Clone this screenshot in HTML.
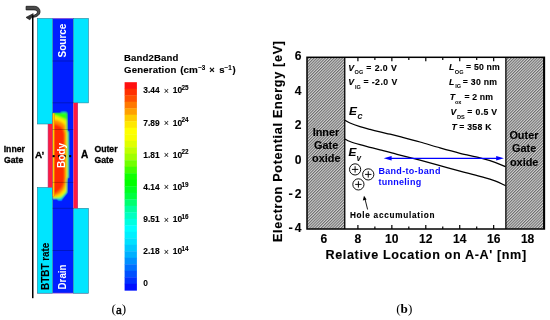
<!DOCTYPE html>
<html><head><meta charset="utf-8">
<style>
html,body{margin:0;padding:0;background:#fff;}
body{width:550px;height:320px;overflow:hidden;}
svg{display:block;}
text{font-family:"Liberation Sans",Arial,sans-serif;font-weight:bold;fill:#000;}
.k{stroke:#000;stroke-width:0.12px;}
.k2{stroke:#000;stroke-width:0.3px;}
.k3{stroke:#000;stroke-width:0.05px;}
.serif{font-family:"Liberation Serif","Times New Roman",serif;font-weight:normal;}
.w{fill:#fff;}
.bl{fill:#0a0aff;}
.it{font-style:italic;}
.n{font-weight:normal;}
</style></head><body>
<svg width="550" height="320" viewBox="0 0 550 320">
<defs>
<pattern id="hatch" patternUnits="userSpaceOnUse" width="2.02" height="2.02" patternTransform="rotate(45)">
<rect width="2.02" height="2.02" fill="#d2d2d2"/>
<rect width="1.0" height="2.02" fill="#6c6c6c"/>
</pattern>
<linearGradient id="bodyR" gradientUnits="userSpaceOnUse" x1="63.5" y1="0" x2="69.4" y2="0">
<stop offset="0" stop-color="#ff3000" stop-opacity="0"/>
<stop offset="0.25" stop-color="#ff8800"/>
<stop offset="0.42" stop-color="#ffee00"/>
<stop offset="0.6" stop-color="#70ff00"/>
<stop offset="0.75" stop-color="#00ff70"/>
<stop offset="0.88" stop-color="#00c8ff"/>
<stop offset="1" stop-color="#0030ff"/>
</linearGradient>
<linearGradient id="bodyT" gradientUnits="userSpaceOnUse" x1="60" y1="112.6" x2="56" y2="127">
<stop offset="0" stop-color="#10ff30"/>
<stop offset="0.22" stop-color="#60ff00"/>
<stop offset="0.42" stop-color="#eeff00"/>
<stop offset="0.62" stop-color="#ffb000"/>
<stop offset="0.82" stop-color="#ff5a00"/>
<stop offset="1" stop-color="#ff2800" stop-opacity="0"/>
</linearGradient>
<radialGradient id="bodyB" gradientUnits="userSpaceOnUse" cx="52" cy="177" r="18" gradientTransform="translate(52 177) scale(1 1.28) translate(-52 -177)">
<stop offset="0" stop-color="#ff2800"/>
<stop offset="0.5" stop-color="#ff3000"/>
<stop offset="0.66" stop-color="#ff8000"/>
<stop offset="0.78" stop-color="#ffee00"/>
<stop offset="0.87" stop-color="#50ff00"/>
<stop offset="0.94" stop-color="#00ffc0"/>
<stop offset="1" stop-color="#0030ff"/>
</radialGradient>
<linearGradient id="bodyL" gradientUnits="userSpaceOnUse" x1="52.5" y1="0" x2="55.2" y2="0">
<stop offset="0" stop-color="#c06020"/>
<stop offset="0.3" stop-color="#ffc000"/>
<stop offset="0.55" stop-color="#ffa000"/>
<stop offset="1" stop-color="#ff3000" stop-opacity="0"/>
</linearGradient>
<clipPath id="bodyClip"><path d="M52.5 112.6 L60.3 112.6 L60.8 110.8 L66.2 110.8 L67.9 112.6 L68.2 130.7 L69.7 131.2 L69.7 178 L68 178.6 L67.9 193 L62.5 199.7 L62.3 201.2 L57.8 201.2 L57.2 199.7 L52.5 199.7 Z"/></clipPath>
<filter id="bblur" x="-20%" y="-5%" width="140%" height="110%"><feGaussianBlur stdDeviation="0.8"/></filter>
<linearGradient id="bodyL2" gradientUnits="userSpaceOnUse" x1="52.5" y1="0" x2="55.3" y2="0">
<stop offset="0" stop-color="#e09020"/>
<stop offset="0.22" stop-color="#ffd800"/>
<stop offset="0.5" stop-color="#ffc800"/>
<stop offset="0.75" stop-color="#ff8000" stop-opacity="0.6"/>
<stop offset="1" stop-color="#ff4000" stop-opacity="0"/>
</linearGradient>
</defs>


<!-- rotation arrow -->
<path d="M26.1 6.3 L34.5 6.3 C38.5 6.5 40.3 9.5 40 12.3 C39.7 15 37 16.8 33.3 17.3 L32.6 15.4 C35.5 15 37.3 13.8 37.4 12.3 C37.5 10.9 36.2 9.9 34.2 9.9 L26.1 9.9 Z" fill="#4a4a4a" stroke="#111" stroke-width="0.75"/>
<path d="M26 17.4 L33.2 13.6 L32.6 16.3 L29.8 19.8 Z" fill="#333" stroke="#111" stroke-width="0.6"/>
<rect x="32.0" y="15.5" width="1.5" height="282.7" fill="#000"/>

<!-- blue channel strip -->
<rect x="52.5" y="18.4" width="20.9" height="274.8" fill="#001eff"/>
<line x1="37.3" y1="293.2" x2="88.5" y2="293.2" stroke="#c060c0" stroke-width="0.6"/>
<line x1="52.5" y1="18.6" x2="73.4" y2="18.6" stroke="#a040c0" stroke-width="0.6"/>
<!-- cyan blocks -->
<g fill="#00e5ff" stroke="#2a7890" stroke-width="0.55">
<rect x="37.3" y="18.4" width="15.2" height="105.6"/>
<rect x="73.4" y="18.4" width="15.1" height="84.5"/>
<rect x="37.3" y="187.4" width="15.2" height="105.8"/>
<rect x="73.4" y="208.3" width="15.1" height="84.9"/>
</g>
<!-- crimson oxide -->
<rect x="48.1" y="124" width="4.4" height="63.4" fill="#ff1a40"/>
<rect x="73.4" y="102.8" width="4.3" height="105.5" fill="#ff1a40"/>
<rect x="47.8" y="124" width="0.5" height="63.4" fill="#a02070"/>
<rect x="77.5" y="102.8" width="0.5" height="105.5" fill="#a02070"/>
<!-- body -->
<g clip-path="url(#bodyClip)">
<rect x="52" y="110" width="18" height="92" fill="#001eff"/>
<g filter="url(#bblur)">
<path d="M52.5 112.8 L61 112.8 L62 111.4 L65.5 111.4 L67.6 112.8 L67.9 131 L69.3 131.5 L69.3 178 L67.7 178.6 L67.6 193 L62.2 199.6 L62 200.8 L58 200.8 L57.5 199.4 L52 199.4 Z" fill="#00d8ff"/>
<path d="M52 112.6 L67.5 112.6 L67.6 131 L68.4 132 L68.4 178 L67.3 179 L67.2 192.5 L61.5 198.6 L52 198.9 Z" fill="#30ff10"/>
<path d="M52 114.8 L56 115.8 L62 118.2 L66.3 120 L66.4 131 L67.1 133 L67.1 178 L66.6 179 L66.5 191 L61.5 196.6 L56 197.8 L52 198 Z" fill="#ffee00"/>
<path d="M52 119.3 L57.5 120.3 L62.5 122.8 L65.2 125.5 L65.3 131 L65.9 134 L65.9 177.5 L65.6 184 L64 189.5 L60 194 L55.5 196 L52 196.3 Z" fill="#ff8a00"/>
<path d="M52 123.2 L57.5 124.4 L61.8 127 L63.8 130.5 L64.7 134 L64.7 176.5 L64.3 183 L62 188 L58 192 L54.5 194 L52 194.5 Z" fill="#ff2c00"/>
</g>
</g>
<rect x="52.5" y="113.2" width="2.8" height="83" fill="url(#bodyL2)"/>
<!-- dark thin lines -->
<g stroke="#000" stroke-width="0.6" opacity="0.4">
<line x1="52.5" y1="61" x2="73.4" y2="61"/>
<line x1="52.5" y1="102.8" x2="73.4" y2="102.8"/>
<line x1="52.5" y1="129.5" x2="73.4" y2="129.5"/>
<line x1="52.5" y1="182.4" x2="73.4" y2="182.4"/>
<line x1="52.5" y1="208.3" x2="73.4" y2="208.3"/>
<line x1="52.5" y1="250.5" x2="73.4" y2="250.5"/>
</g>
<!-- dotted line -->
<g fill="#000">
<rect x="52.6" y="155.1" width="2.1" height="2.1"/><rect x="58.1" y="155.1" width="2.1" height="2.1"/><rect x="63.6" y="155.1" width="2.1" height="2.1"/><rect x="69.1" y="155.1" width="2.1" height="2.1"/>
</g>
<!-- texts in device -->
<text class="w" transform="translate(66.3 57.5) rotate(-90)" font-size="10.8" textLength="33.9" lengthAdjust="spacingAndGlyphs">Source</text>
<text class="w" transform="translate(64.7 168.1) rotate(-90)" font-size="10.1" textLength="25.2" lengthAdjust="spacingAndGlyphs">Body</text>
<text class="w" transform="translate(65.7 289.4) rotate(-90)" font-size="10.5" textLength="24.8" lengthAdjust="spacingAndGlyphs">Drain</text>
<text class="k" transform="translate(49.0 289.9) rotate(-90)" font-size="10.4" textLength="47.2" lengthAdjust="spacingAndGlyphs">BTBT rate</text>
<!-- labels -->
<text class="k2" x="3.7" y="152.1" font-size="8.7">Inner</text>
<text class="k2" x="4" y="162.7" font-size="8.7">Gate</text>
<text class="k2" x="34.9" y="157.8" font-size="9.9">A’</text>
<text class="k2" x="81.1" y="157.9" font-size="10.1">A</text>
<text class="k2" x="94.4" y="152.1" font-size="8.7">Outer</text>
<text class="k2" x="94.4" y="162.6" font-size="8.7">Gate</text>

<rect x="124.6" y="82.20" width="12.3" height="6.85" fill="#ff1010"/>
<rect x="124.6" y="88.70" width="12.3" height="6.85" fill="#ff3000"/>
<rect x="124.6" y="95.21" width="12.3" height="6.85" fill="#ff5000"/>
<rect x="124.6" y="101.71" width="12.3" height="6.85" fill="#ff7800"/>
<rect x="124.6" y="108.21" width="12.3" height="6.85" fill="#ffa000"/>
<rect x="124.6" y="114.72" width="12.3" height="6.85" fill="#ffcc00"/>
<rect x="124.6" y="121.22" width="12.3" height="6.85" fill="#ffe800"/>
<rect x="124.6" y="127.72" width="12.3" height="6.85" fill="#ffff00"/>
<rect x="124.6" y="134.23" width="12.3" height="6.85" fill="#f8ff00"/>
<rect x="124.6" y="140.73" width="12.3" height="6.85" fill="#e0ff00"/>
<rect x="124.6" y="147.23" width="12.3" height="6.85" fill="#c0ff00"/>
<rect x="124.6" y="153.73" width="12.3" height="6.85" fill="#a0ff00"/>
<rect x="124.6" y="160.24" width="12.3" height="6.85" fill="#70ff00"/>
<rect x="124.6" y="166.74" width="12.3" height="6.85" fill="#40ff00"/>
<rect x="124.6" y="173.24" width="12.3" height="6.85" fill="#10ff00"/>
<rect x="124.6" y="179.75" width="12.3" height="6.85" fill="#00ff00"/>
<rect x="124.6" y="186.25" width="12.3" height="6.85" fill="#00ff20"/>
<rect x="124.6" y="192.75" width="12.3" height="6.85" fill="#00ff40"/>
<rect x="124.6" y="199.26" width="12.3" height="6.85" fill="#00ff70"/>
<rect x="124.6" y="205.76" width="12.3" height="6.85" fill="#00ffa0"/>
<rect x="124.6" y="212.26" width="12.3" height="6.85" fill="#00ffc0"/>
<rect x="124.6" y="218.77" width="12.3" height="6.85" fill="#00ffe0"/>
<rect x="124.6" y="225.27" width="12.3" height="6.85" fill="#00ffff"/>
<rect x="124.6" y="231.77" width="12.3" height="6.85" fill="#00f0ff"/>
<rect x="124.6" y="238.28" width="12.3" height="6.85" fill="#00e0ff"/>
<rect x="124.6" y="244.78" width="12.3" height="6.85" fill="#00c8ff"/>
<rect x="124.6" y="251.28" width="12.3" height="6.85" fill="#00b0ff"/>
<rect x="124.6" y="257.78" width="12.3" height="6.85" fill="#0090ff"/>
<rect x="124.6" y="264.29" width="12.3" height="6.85" fill="#0070ff"/>
<rect x="124.6" y="270.79" width="12.3" height="6.85" fill="#0050ff"/>
<rect x="124.6" y="277.29" width="12.3" height="6.85" fill="#0030ff"/>
<rect x="124.6" y="283.80" width="12.3" height="6.85" fill="#0010ff"/>

<text class="k" x="124" y="60.9" font-size="9.6" textLength="54.3" lengthAdjust="spacing">Band2Band</text>
<text class="k" x="124" y="73.2" font-size="9.6" textLength="52.4" lengthAdjust="spacing">Generation</text>
<text class="k" x="180.2" y="73.2" font-size="9.5" textLength="17.6" lengthAdjust="spacingAndGlyphs">(cm</text>
<text class="k" x="198.2" y="69.6" font-size="6.3">−3</text>
<text class="k" x="209.2" y="73.0" font-size="9.3">×</text>
<text class="k" x="219.2" y="73.2" font-size="9.5">s</text>
<text class="k" x="224.6" y="69.6" font-size="6.3">−1</text>
<text class="k" x="232.6" y="73.2" font-size="9.5">)</text>

<text class="k" x="143.3" y="93.4" font-size="8.4">3.44</text><text class="n" x="163.7" y="94.1" font-size="9.0">×</text><text class="k" x="172.8" y="93.4" font-size="8.4">10</text><text class="k" x="181.4" y="90.2" font-size="6.3">25</text>
<text class="k" x="143.3" y="125.5" font-size="8.4">7.89</text><text class="n" x="163.7" y="126.2" font-size="9.0">×</text><text class="k" x="172.8" y="125.5" font-size="8.4">10</text><text class="k" x="181.4" y="122.3" font-size="6.3">24</text>
<text class="k" x="143.3" y="157.6" font-size="8.4">1.81</text><text class="n" x="163.7" y="158.3" font-size="9.0">×</text><text class="k" x="172.8" y="157.6" font-size="8.4">10</text><text class="k" x="181.4" y="154.4" font-size="6.3">22</text>
<text class="k" x="143.3" y="189.7" font-size="8.4">4.14</text><text class="n" x="163.7" y="190.4" font-size="9.0">×</text><text class="k" x="172.8" y="189.7" font-size="8.4">10</text><text class="k" x="181.4" y="186.5" font-size="6.3">19</text>
<text class="k" x="143.3" y="221.8" font-size="8.4">9.51</text><text class="n" x="163.7" y="222.5" font-size="9.0">×</text><text class="k" x="172.8" y="221.8" font-size="8.4">10</text><text class="k" x="181.4" y="218.6" font-size="6.3">16</text>
<text class="k" x="143.3" y="253.9" font-size="8.4">2.18</text><text class="n" x="163.7" y="254.6" font-size="9.0">×</text><text class="k" x="172.8" y="253.9" font-size="8.4">10</text><text class="k" x="181.4" y="250.7" font-size="6.3">14</text>
<text class="k3" x="143.3" y="286.0" font-size="8.4">0</text>
<text class="serif" x="111.5" y="313.6" font-size="13.2"><tspan dy="-0.7">(</tspan><tspan dy="0.7" stroke="#000" stroke-width="0.45">a</tspan><tspan dy="-0.7">)</tspan></text>
<rect x="307.0" y="57.3" width="37.5" height="171.7" fill="url(#hatch)"/>
<rect x="505.4" y="57.3" width="39.0" height="171.7" fill="url(#hatch)"/>
<line x1="344.75" y1="57.3" x2="344.75" y2="229.0" stroke="#000" stroke-width="1.3"/>
<line x1="505.9" y1="57.3" x2="505.9" y2="229.0" stroke="#000" stroke-width="1.2"/>
<g stroke="#000" stroke-width="1.2">
<line x1="357.91" y1="229.0" x2="357.91" y2="225.00"/><line x1="357.91" y1="57.3" x2="357.91" y2="61.30"/>
<line x1="374.88" y1="229.0" x2="374.88" y2="226.40"/><line x1="374.88" y1="57.3" x2="374.88" y2="59.90"/>
<line x1="391.85" y1="229.0" x2="391.85" y2="225.00"/><line x1="391.85" y1="57.3" x2="391.85" y2="61.30"/>
<line x1="408.82" y1="229.0" x2="408.82" y2="226.40"/><line x1="408.82" y1="57.3" x2="408.82" y2="59.90"/>
<line x1="425.79" y1="229.0" x2="425.79" y2="225.00"/><line x1="425.79" y1="57.3" x2="425.79" y2="61.30"/>
<line x1="442.76" y1="229.0" x2="442.76" y2="226.40"/><line x1="442.76" y1="57.3" x2="442.76" y2="59.90"/>
<line x1="459.73" y1="229.0" x2="459.73" y2="225.00"/><line x1="459.73" y1="57.3" x2="459.73" y2="61.30"/>
<line x1="476.70" y1="229.0" x2="476.70" y2="226.40"/><line x1="476.70" y1="57.3" x2="476.70" y2="59.90"/>
<line x1="493.67" y1="229.0" x2="493.67" y2="225.00"/><line x1="493.67" y1="57.3" x2="493.67" y2="61.30"/>
</g>
<line x1="543.6" y1="57.3" x2="543.6" y2="229.0" stroke="#000" stroke-width="1.0"/>
<rect x="307.0" y="57.3" width="237.39999999999998" height="171.7" fill="none" stroke="#000" stroke-width="1.5"/>
<text class="k" x="323.97" y="242.6" font-size="12.1" text-anchor="middle">6</text>
<text class="k" x="357.91" y="242.6" font-size="12.1" text-anchor="middle">8</text>
<text class="k" x="391.85" y="242.6" font-size="12.1" text-anchor="middle">10</text>
<text class="k" x="425.79" y="242.6" font-size="12.1" text-anchor="middle">12</text>
<text class="k" x="459.73" y="242.6" font-size="12.1" text-anchor="middle">14</text>
<text class="k" x="493.67" y="242.6" font-size="12.1" text-anchor="middle">16</text>
<text class="k" x="527.61" y="242.6" font-size="12.1" text-anchor="middle">18</text>
<text class="k" x="301.5" y="60.20" font-size="12.1" text-anchor="end">6</text>
<text class="k" x="301.5" y="94.64" font-size="12.1" text-anchor="end">4</text>
<text class="k" x="301.5" y="129.08" font-size="12.1" text-anchor="end">2</text>
<text class="k" x="301.5" y="163.52" font-size="12.1" text-anchor="end">0</text>
<text class="k" x="301.5" y="197.96" font-size="12.1" text-anchor="end">2</text>
<text class="k" x="288.5" y="197.96" font-size="12.1" textLength="4.3" lengthAdjust="spacingAndGlyphs">-</text>
<text class="k" x="301.5" y="232.40" font-size="12.1" text-anchor="end">4</text>
<text class="k" x="288.5" y="232.40" font-size="12.1" textLength="4.3" lengthAdjust="spacingAndGlyphs">-</text>

<text class="k" x="325.5" y="258.8" font-size="12.6" textLength="200.6" lengthAdjust="spacing">Relative Location on A-A' [nm]</text>
<text class="k" transform="translate(281.8 242.1) rotate(-90)" font-size="12.6" textLength="201.1" lengthAdjust="spacing">Electron Potential Energy [eV]</text>

<text class="k" x="326" y="135.6" font-size="10.9" text-anchor="middle">Inner</text>
<text class="k" x="326.2" y="149.3" font-size="10.9" text-anchor="middle">Gate</text>
<text class="k" x="326.3" y="162.4" font-size="10.9" text-anchor="middle">oxide</text>
<text class="k" x="523.9" y="139.4" font-size="10.9" text-anchor="middle">Outer</text>
<text class="k" x="524.1" y="152.4" font-size="10.9" text-anchor="middle">Gate</text>
<text class="k" x="524.2" y="165.9" font-size="10.9" text-anchor="middle">oxide</text>

<path d="M345 120.3 C345.83 120.75 347.50 121.95 350 123.0 C352.50 124.05 356.67 125.53 360 126.6 C363.33 127.67 366.67 128.52 370 129.4 C373.33 130.28 376.67 131.10 380 131.9 C383.33 132.70 386.67 133.40 390 134.2 C393.33 135.00 395.00 135.40 400 136.7 C405.00 138.00 413.33 140.13 420 142.0 C426.67 143.87 433.33 146.02 440 147.9 C446.67 149.78 453.33 151.63 460 153.3 C466.67 154.97 474.17 156.40 480 157.9 C485.83 159.40 490.75 160.82 495 162.3 C499.25 163.78 503.75 166.05 505.5 166.8" fill="none" stroke="#000" stroke-width="1.25"/>
<path d="M345 139.0 C345.83 139.42 347.50 140.55 350 141.5 C352.50 142.45 356.67 143.73 360 144.7 C363.33 145.67 366.67 146.45 370 147.3 C373.33 148.15 376.67 148.97 380 149.8 C383.33 150.63 386.67 151.42 390 152.3 C393.33 153.18 395.00 153.78 400 155.1 C405.00 156.42 413.33 158.45 420 160.2 C426.67 161.95 433.33 163.78 440 165.6 C446.67 167.42 453.33 169.30 460 171.1 C466.67 172.90 474.17 174.77 480 176.4 C485.83 178.03 490.75 179.35 495 180.9 C499.25 182.45 503.75 184.90 505.5 185.7" fill="none" stroke="#000" stroke-width="1.25"/>
<line x1="389" y1="158.3" x2="498" y2="158.3" stroke="#0000ff" stroke-width="1.3"/>
<path d="M383.7 158.3 L391.6 156.0 L391.6 160.6 Z" fill="#0000ff"/>
<path d="M503.9 158.3 L496.2 156.0 L496.2 160.6 Z" fill="#0000ff"/>
<text class="bl" x="378.4" y="173.6" font-size="9.0" textLength="62.0" lengthAdjust="spacing">Band-to-band</text>
<text class="bl" x="378.4" y="185.4" font-size="9.0" textLength="42.8" lengthAdjust="spacing">tunneling</text>

<text class="it k" x="349.1" y="114.7" font-size="11.8">E</text><text class="it k" x="357.6" y="119.3" font-size="6.6">C</text>
<text class="it k" x="348.6" y="156.1" font-size="11.8">E</text><text class="it k" x="356.5" y="161.1" font-size="6.6">V</text>

<g fill="none" stroke="#000" stroke-width="0.95">
<circle cx="355.1" cy="169.4" r="5.6"/><circle cx="368.25" cy="174.4" r="5.6"/><circle cx="358.4" cy="184.4" r="5.6"/>
<path d="M351.9 169.4 h6.4 M355.1 166.2 v6.4 M365.05 174.4 h6.4 M368.25 171.2 v6.4 M355.2 184.4 h6.4 M358.4 181.2 v6.4" stroke-width="0.95"/>
</g>
<line x1="367.6" y1="209.5" x2="365" y2="199" stroke="#000" stroke-width="0.9"/>
<path d="M364 195.8 L362.8 200.5 L366.6 199.6 Z" fill="#000"/>
<text class="k" x="349.9" y="217.6" font-size="8.2" textLength="84.6" lengthAdjust="spacing">Hole accumulation</text>

<text class="it k" x="348.3" y="70.5" font-size="8.7">V</text>
<text x="354.6" y="74.2" font-size="5.6" font-weight="normal" fill="#222">OG</text>
<text class="k" x="366.3" y="70.5" font-size="8.7" textLength="30.4" lengthAdjust="spacing">= 2.0 V</text>
<text class="it k" x="348.3" y="85.3" font-size="8.7">V</text>
<text x="355.0" y="89.0" font-size="5.6" font-weight="normal" fill="#222">IG</text>
<text class="k" x="363.4" y="85.3" font-size="8.7" textLength="33.8" lengthAdjust="spacing">= -2.0 V</text>
<text class="it k" x="449.0" y="70.3" font-size="8.7">L</text>
<text x="454.8" y="74.0" font-size="5.6" font-weight="normal" fill="#222">OG</text>
<text class="k" x="466.1" y="70.3" font-size="8.7" textLength="33.6" lengthAdjust="spacing">= 50 nm</text>
<text class="it k" x="449.0" y="84.6" font-size="8.7">L</text>
<text x="455.3" y="88.3" font-size="5.6" font-weight="normal" fill="#222">IG</text>
<text class="k" x="462.8" y="84.6" font-size="8.7" textLength="34.2" lengthAdjust="spacing">= 30 nm</text>
<text class="it k" x="449.7" y="100.1" font-size="8.7">T</text>
<text x="454.9" y="103.8" font-size="5.6" font-weight="normal" fill="#222">ox</text>
<text class="k" x="464.5" y="100.1" font-size="8.7" textLength="28.5" lengthAdjust="spacing">= 2 nm</text>
<text class="it k" x="450.6" y="115.0" font-size="8.7">V</text>
<text x="457.0" y="118.7" font-size="5.6" font-weight="normal" fill="#222">DS</text>
<text class="k" x="467.3" y="115.0" font-size="8.7" textLength="29.8" lengthAdjust="spacing">= 0.5 V</text>
<text class="it k" x="451.6" y="129.5" font-size="8.7">T</text>
<text class="k" x="459.2" y="129.5" font-size="8.7" textLength="32.3" lengthAdjust="spacing">= 358 K</text>
<text class="serif" x="396.2" y="313.4" font-size="13.2"><tspan dy="-0.5">(</tspan><tspan font-weight="bold" dy="0.5">b</tspan><tspan dy="-0.5">)</tspan></text>
</svg>
</body></html>
